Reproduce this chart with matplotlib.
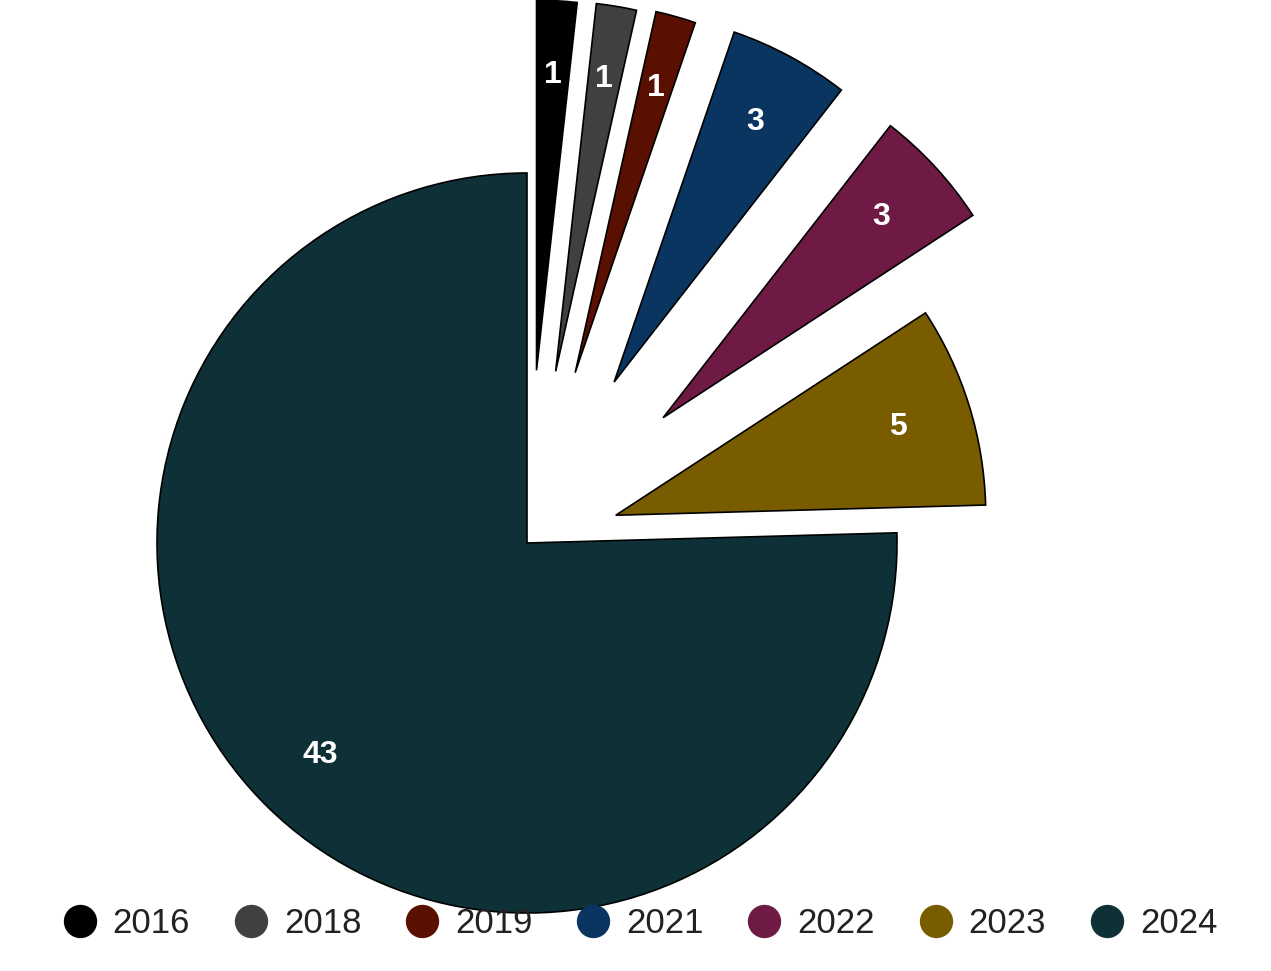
import matplotlib.pyplot as plt
from matplotlib.lines import Line2D

years = ["2016", "2018", "2019", "2021", "2022", "2023", "2024"]
counts = [1, 1, 1, 3, 3, 5, 43]
colors = ["#000000", "#404040", "#5a1000", "#0a3560", "#6e1a45", "#7a5c00", "#0e3138"]
# explode offsets in pixel units (axes are in pixel coords)
explode = [173, 174, 177, 183, 185, 93, 0]

plt.rcParams['font.family'] = ['Liberation Sans', 'DejaVu Sans']
fig = plt.figure(figsize=(12.71, 9.71), dpi=100)
ax = fig.add_axes([0, 0, 1, 1])

wedges, texts, autotexts = ax.pie(
    counts, colors=colors, explode=explode, startangle=90, counterclock=False,
    center=(527, 428), radius=370, pctdistance=0.8,
    autopct=lambda p: f"{round(p * sum(counts) / 100)}",
    wedgeprops=dict(edgecolor='black', linewidth=1.2),
    textprops=dict(color='white', fontsize=23, fontweight='bold'))
ax.set_xlim(0, 1271)
ax.set_ylim(0, 971)
ax.set_aspect('equal')
ax.axis('off')

handles = [Line2D([], [], marker='o', linestyle='', markersize=24,
                  markerfacecolor=c, markeredgecolor='none') for c in colors]
fig.legend(handles, years, loc='lower center', ncol=7, frameon=False,
           fontsize=25, bbox_to_anchor=(0.5, 0.0), handletextpad=0.2,
           columnspacing=1.0, handlelength=1.5, labelcolor='#222222')

fig.savefig("out.png", dpi=100)
